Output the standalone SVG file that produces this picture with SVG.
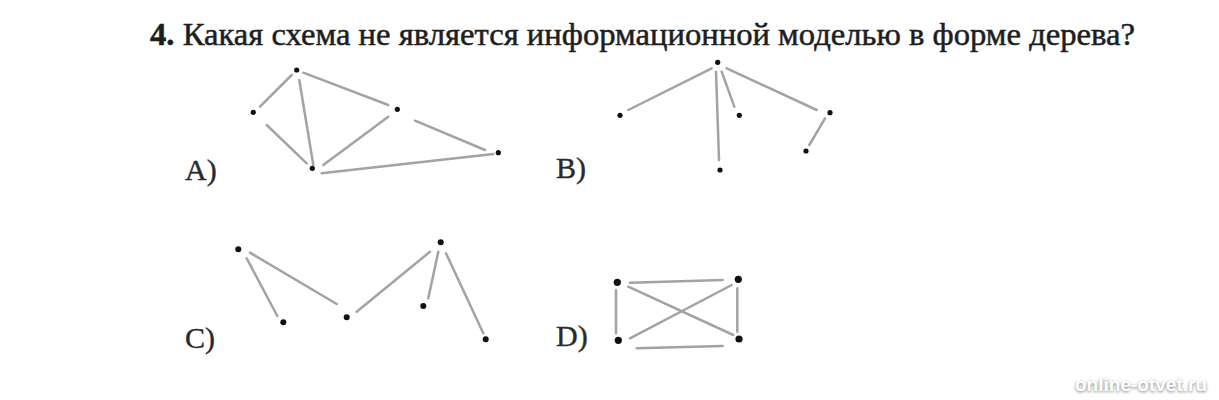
<svg xmlns="http://www.w3.org/2000/svg" width="1219" height="400" viewBox="0 0 1219 400">
<style>
.t{font-family:"Liberation Serif","Times New Roman",serif;fill:#1e1e1e;stroke:#1e1e1e;stroke-width:0.5}
.lbl{font-family:"Liberation Serif","Times New Roman",serif;font-size:30px;fill:#2a2a2a;stroke:#2a2a2a;stroke-width:0.4}
.e{stroke:#a3a3a3;stroke-width:2.5;stroke-linecap:round;fill:none}
.n{fill:#111}
.wm{font-family:"Liberation Sans",Arial,sans-serif;font-weight:bold;font-size:18px}
</style>
<defs>
<filter id="blur" x="-10%" y="-50%" width="120%" height="200%"><feGaussianBlur stdDeviation="1.6"/></filter>
</defs>
<rect width="1219" height="400" fill="#ffffff"/>
<text id="title" class="t" x="150" y="45" font-size="31" textLength="985" lengthAdjust="spacingAndGlyphs"><tspan font-weight="bold">4.</tspan> Какая схема не является информационной моделью в форме дерева?</text>

<g id="connectors">
<g id="edges-A">
<line class="e" x1="291.7" y1="75" x2="260" y2="106.7"/>
<line class="e" x1="266.7" y1="125" x2="306.7" y2="163.3"/>
<line class="e" x1="299.3" y1="80" x2="313.3" y2="165"/>
<line class="e" x1="303.3" y1="72.7" x2="388.3" y2="105"/>
<line class="e" x1="388.3" y1="116.7" x2="323.3" y2="165"/>
<line class="e" x1="415" y1="120.7" x2="485" y2="150"/>
<line class="e" x1="321.7" y1="173.3" x2="493.3" y2="154"/>
</g>
<g id="edges-B">
<line class="e" x1="711.7" y1="68.3" x2="628.3" y2="110"/>
<line class="e" x1="716" y1="71.7" x2="719" y2="160"/>
<line class="e" x1="721.7" y1="71.7" x2="734.3" y2="106.7"/>
<line class="e" x1="726.7" y1="68.3" x2="816.7" y2="110"/>
<line class="e" x1="825" y1="118.3" x2="809.3" y2="145"/>
</g>
<g id="edges-C">
<line class="e" x1="246.7" y1="258.3" x2="277.3" y2="316"/>
<line class="e" x1="250" y1="252.7" x2="336.7" y2="304"/>
<line class="e" x1="356.7" y1="311.7" x2="430" y2="251.7"/>
<line class="e" x1="438.3" y1="251.7" x2="428.3" y2="298.3"/>
<line class="e" x1="446" y1="253.3" x2="483.3" y2="333.3"/>
</g>
<g id="edges-D">
<line class="e" x1="630" y1="282.7" x2="722.7" y2="280"/>
<line class="e" x1="636.7" y1="348.3" x2="722.7" y2="346"/>
<line class="e" x1="616" y1="290" x2="616" y2="333.3"/>
<line class="e" x1="737.3" y1="288.3" x2="737.3" y2="331.7"/>
<line class="e" x1="628.3" y1="286.7" x2="733.3" y2="335"/>
<line class="e" x1="630" y1="338.3" x2="731.7" y2="285"/>
</g>
</g>

<g id="graph-A">
<text class="lbl" x="185" y="180">A)</text>
<circle class="n" cx="296.7" cy="70" r="2.6"/>
<circle class="n" cx="253.3" cy="112.3" r="2.6"/>
<circle class="n" cx="397.3" cy="109.3" r="2.6"/>
<circle class="n" cx="498.3" cy="152.7" r="2.6"/>
<circle class="n" cx="312.3" cy="168.3" r="2.6"/>
</g>
<g id="graph-B">
<text class="lbl" x="556" y="178">B)</text>
<circle class="n" cx="717.7" cy="62.3" r="2.6"/>
<circle class="n" cx="620" cy="115.3" r="2.6"/>
<circle class="n" cx="739.3" cy="115.3" r="2.6"/>
<circle class="n" cx="720" cy="170" r="2.6"/>
<circle class="n" cx="830" cy="112.7" r="2.6"/>
<circle class="n" cx="806" cy="151" r="2.6"/>
</g>
<g id="graph-C">
<text class="lbl" x="185" y="348">C)</text>
<circle class="n" cx="238.3" cy="249.3" r="3"/>
<circle class="n" cx="283.3" cy="322.3" r="3"/>
<circle class="n" cx="346.7" cy="317.3" r="3"/>
<circle class="n" cx="440.7" cy="242.3" r="3"/>
<circle class="n" cx="423.3" cy="306" r="3"/>
<circle class="n" cx="485.7" cy="339.3" r="3"/>
</g>
<g id="graph-D">
<text class="lbl" x="556" y="346">D)</text>
<circle class="n" cx="617.3" cy="282.3" r="3.6"/>
<circle class="n" cx="738.3" cy="279.3" r="3.6"/>
<circle class="n" cx="618.3" cy="340.3" r="3.6"/>
<circle class="n" cx="739" cy="339" r="3.6"/>
</g>

<g id="watermark">
<text class="wm" x="1075" y="392" fill="#7a7a7a" filter="url(#blur)" textLength="132" lengthAdjust="spacingAndGlyphs">online-otvet.ru</text>
<text class="wm" x="1075" y="391" fill="#ffffff" textLength="132" lengthAdjust="spacingAndGlyphs">online-otvet.ru</text>
</g>
</svg>
